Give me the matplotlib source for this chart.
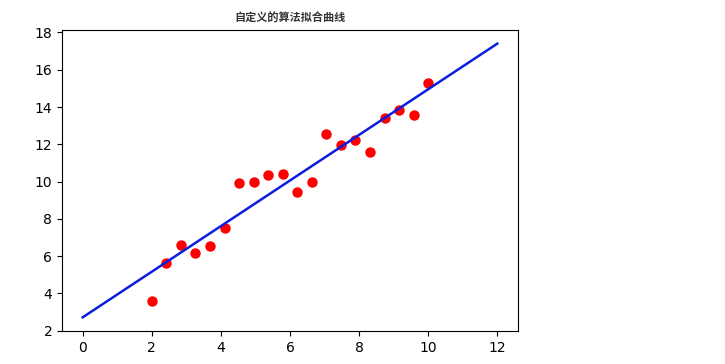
import numpy as np
import matplotlib
matplotlib.use("Agg")
import matplotlib.pyplot as plt

# sample points
x_pts = [2.0, 2.42, 2.84, 3.26, 3.68, 4.11, 4.53, 4.95, 5.37, 5.79,
         6.21, 6.63, 7.05, 7.47, 7.89, 8.32, 8.74, 9.16, 9.58, 10.0]
y_pts = [3.57, 5.65, 6.58, 6.18, 6.52, 7.5, 9.9, 9.96, 10.34, 10.4,
         9.44, 9.96, 12.57, 11.97, 12.25, 11.6, 13.4, 13.83, 13.55, 15.3]

# fitted line end points
x_fit = [0, 12]
y_fit = [2.72, 17.4]

title = '自定义的算法拟合曲线'

fig = plt.figure(figsize=(7.25, 3.64), dpi=100)
ax = fig.add_axes([0.0855, 0.0907, 0.629, 0.827])
ax.plot(x_pts, y_pts, 'ro', markersize=6.5)
ax.plot(x_fit, y_fit, color='#0a1ee0', linewidth=1.8)
ax.set_yticks([2, 4, 6, 8, 10, 12, 14, 16, 18])
ax.set_xticks([0, 2, 4, 6, 8, 10, 12])
ax.set_title(title, fontsize=8, color='#333333', fontweight='bold',
             family=['Noto Sans CJK SC', 'DejaVu Sans'])
ax.tick_params(labelsize=10)

fig.savefig('out.png', dpi=100)
